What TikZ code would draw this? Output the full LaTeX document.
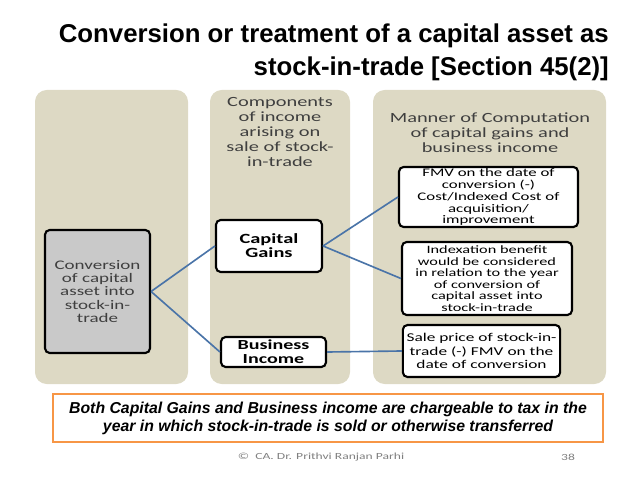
\documentclass[tikz,border=0pt]{standalone}
\usepackage{fontspec}
\setmainfont{Carlito}[FakeStretch=1.45]
\newfontfamily\arialfont{Liberation Sans}
\definecolor{panelfill}{HTML}{DDD9C4}
\definecolor{convfill}{HTML}{C9C9C9}
\definecolor{linkblue}{HTML}{4A74A8}
\definecolor{notebrd}{HTML}{F79646}
\definecolor{headgray}{HTML}{3F3F3F}
\begin{document}
\begin{tikzpicture}[x=0.03cm,y=-0.03cm,
  panel/.style={fill=panelfill, rounded corners=10pt},
  box/.style={draw=black, line width=1.8pt, rounded corners=4pt, fill=white,
    align=center, inner sep=1pt, font=\fontsize{9.9}{10.2}\selectfont},
  link/.style={draw=linkblue, line width=1.4pt},
  head/.style={align=center, text=headgray, font=\fontsize{12}{12.8}\selectfont}]
  \useasboundingbox (0,0) rectangle (638,478);
  % title
  \node[anchor=east, align=right, font=\arialfont\bfseries\fontsize{22}{28}\selectfont] (title) at (613,52)
    {Conversion or treatment of a capital asset as\\stock-in-trade [Section 45(2)]};
  % three columns
  \fill[panel] (35,90) rectangle (188,384);
  \fill[panel] (210,90) rectangle (350,384);
  \fill[panel] (373,90) rectangle (606,384);
  \node[head] (comp) at (280,132) {Components\\of income\\arising on\\sale of stock-\\in-trade};
  \node[head] (manner) at (490,133) {Manner of Computation\\of capital gains and\\business income};
  % boxes
  \node[box, fill=convfill, text=headgray, minimum width=3.15cm, minimum height=3.69cm,
    text width=3cm, font=\fontsize{11.2}{11.3}\selectfont] (conv) at (97.5,291.5)
    {Conversion\\of capital\\asset into\\stock-in-\\trade};
  \node[box, minimum width=3.18cm, minimum height=1.56cm, font=\bfseries\fontsize{12}{12}\selectfont] (cg) at (269,246) {Capital\\Gains};
  \node[box, minimum width=3.15cm, minimum height=0.9cm, font=\bfseries\fontsize{11.8}{11.8}\selectfont] (bi) at (273.5,352) {Business\\Income};
  \node[box, minimum width=5.37cm, minimum height=1.8cm, text width=5.3cm] (fmv) at (488.5,197)
    {FMV on the date of\\conversion (-)\\Cost/Indexed Cost of\\acquisition/\\improvement};
  \node[box, minimum width=5.1cm, minimum height=2.19cm, text width=5cm, font=\fontsize{9.6}{9.8}\selectfont] (idx) at (487,278.5)
    {Indexation benefit\\would be considered\\in relation to the year\\of conversion of\\capital asset into\\stock-in-trade};
  \node[box, minimum width=4.71cm, minimum height=1.56cm, text width=4.65cm, font=\fontsize{10.2}{11.3}\selectfont] (sale) at (481.5,351)
    {Sale price of stock-in-\\trade (-) FMV on the\\date of conversion};
  % connectors
  \draw[link] (conv.east) -- (cg.west);
  \draw[link] (conv.east) -- (bi.west);
  \draw[link] (cg.east) -- (fmv.west);
  \draw[link] (cg.east) -- (idx.west);
  \draw[link] (bi.east) -- (sale.west);
  % note
  \node[draw=notebrd, line width=1pt, minimum width=16.5cm, minimum height=1.44cm, align=center,
    font=\arialfont\bfseries\itshape\fontsize{13.5}{15.3}\selectfont] (note) at (328,418)
    {Both Capital Gains and Business income are chargeable to tax in the\\year in which stock-in-trade is sold or otherwise transferred};
  % footer
  \node[text=gray, font=\fontsize{8}{9}\selectfont] (credit) at (321,457) {\textcopyright{}\ \ CA. Dr. Prithvi Ranjan Parhi};
  \node[text=gray, font=\fontsize{8}{9}\selectfont] (page) at (568,457) {38};
\end{tikzpicture}
\end{document}
